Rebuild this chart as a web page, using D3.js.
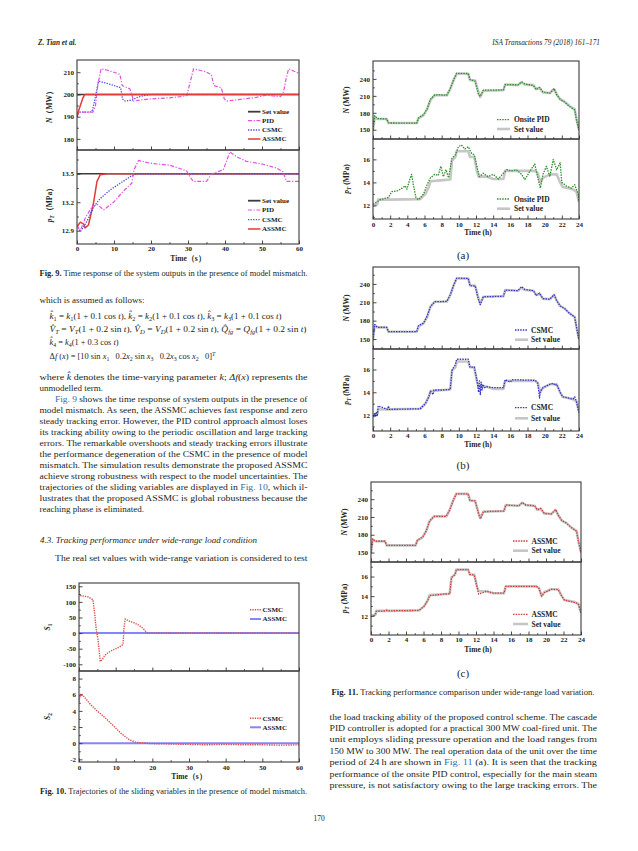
<!DOCTYPE html>
<html><head><meta charset="utf-8">
<script src="https://cdn.jsdelivr.net/npm/d3@7"></script>
<style>body{margin:0;background:#fff}svg{display:block}</style>
</head><body>
<svg id="page" width="638" height="851"></svg>
<script>
// ================= DATA =================
// Fig. 9 (time in s)
const fig9TimeTicks = [0,10,20,30,40,50,60];
const fig9NTicks = [180,190,200,210];
const fig9PTicks = [12.9,13.2,13.5];
const fig9SetT = [0,60];
const fig9NSet = [200,200];
const fig9NPidT = [0,0.5,4.3,5,5.6,6.5,8,10,11.6,12.2,14.3,14.8,15.3,17,20,25,28,29.7,30.5,31.5,33,35,36.3,37,39,39.8,40.5,45,48,51,53,55,55.8,56.5,57.2,60];
const fig9NPid  = [190,192,192,195,204,211.5,211,210,209,204,202.5,200,197,197.5,198,198.5,199,199.5,205,211.5,211,210,209,204,203,198,197,198,198.5,199.7,199.3,199,201,207,211.5,209.5];
const fig9NCsmcT = [0,0.3,0.6,3.5,4.2,5,5.8,6.3,8,10,11.8,12.3,13,15,16,18,20,60];
const fig9NCsmc  = [190,191.5,192,192,193,199,206,205.8,205,204,203,198,197,197.5,198.5,199.5,200,200];
const fig9NAssmcT = [0,0.5,1,1.5,2,2.3,60];
const fig9NAssmc  = [190,193,195.5,198,199.8,200,200];
const fig9PSet = [13.5,13.5];
const fig9PPidT = [0,0.9,2.2,4,5.4,7.2,9.9,12.6,14.8,15.4,16.6,19.8,25.1,27.4,29.6,30.5,31.4,35,36.4,39.5,40.4,41.3,43.1,45.8,50.3,53.9,55.7,56.6,60];
const fig9PPid  = [12.96,12.9,13.03,13.15,13.18,13.12,13.2,13.32,13.4,13.54,13.64,13.61,13.59,13.56,13.53,13.47,13.42,13.42,13.5,13.54,13.63,13.73,13.68,13.63,13.6,13.56,13.52,13.42,13.42];
const fig9PCsmcT = [0,0.9,1.8,3.1,4.5,6.3,9,11.7,14.4,16.2,60];
const fig9PCsmc  = [12.96,12.89,12.94,13.03,13.15,13.24,13.33,13.4,13.47,13.5,13.5];
const fig9PAssmcT = [0,0.9,1.8,2.2,3.1,4.5,5.4,6.3,8.1,60];
const fig9PAssmc  = [12.94,12.99,12.97,12.93,12.96,13.2,13.42,13.49,13.5,13.5];

// Fig. 10
const fig10S1Ticks = [-100,-50,0,50,100,150];
const fig10S2Ticks = [-2,0,2,4,6,8];
const fig10S1CsmcT = [0,0.1,0.3,1,2.5,3.8,4.2,4.7,5.2,5.8,6.3,7,8,9.3,11,12,12.3,12.6,13.8,15,16.5,17.5,18.4,19,60];
const fig10S1Csmc  = [150,125,120,119,116,107,70,12,-22,-91,-85,-72,-62,-54,-45,-36,20,45,38,33,24,15,2,0,0];
const fig10S2CsmcT = [0,0.3,0.6,1.5,2.9,4.7,7,9.3,11.5,13.8,15.6,17,19.3,25,30,35,40,45,50,55,60];
const fig10S2Csmc  = [5.1,5.9,6.15,5.7,4.9,4.1,3.2,2.2,1.2,0.4,0.1,0.05,-0.05,-0.1,-0.15,-0.2,-0.15,-0.2,-0.2,-0.25,-0.2];
const fig10AssmcT = [0,60];
const fig10S1Assmc = [0,0];
const fig10S2Assmc = [0,0];

// Fig. 11 (time in h)
const fig11HourTicks = [0,2,4,6,8,10,12,14,16,18,20,22,24];
const fig11NTicks = [150,180,210,240];
const fig11PTicks = [12,14,16];
const fig11HoursN = [0,0.2,0.5,1.6,1.8,5.1,5.3,5.9,6.3,6.7,7.2,8.6,9.0,9.4,9.75,11.1,11.3,11.9,12.3,12.5,12.85,15.2,15.4,16.9,17.3,17.7,18.7,19.0,19.4,19.8,20.6,21.1,21.4,21.8,22.3,22.9,23.5,23.7,24];
const fig11SetN   = [150,172,169,169,162,162,170,176,186,203,211,211,222,238,249,249,238,237,216,208,219,220,230,229,234,230,229,222,224,216,215,222,213,204,200,192,186,170,150];
const fig11PidN   = [150,175,170,169,162,161.5,171,177,187,204,212,211,223,239,250,249.5,239,236,212,209,220,220.5,230,229.5,235,231,228,221,225,217,214.5,223,212,204,199,191,185,168,149];
const fig11CsmcN  = [148,174,169,169,162,162,172,176,187,203,211,211.5,222,238,249.5,249,237,237,214,206,219,220,230,229,235.5,231,229,221,225,216,215,222.5,213,204,200,192,186,170,148];
const fig11AssmcN = [149,173,169,169,162,162,171,176,186,203,211,211,222,238,249,249,238,237,215,207,219,220,230,229,234.5,230,229,222,224.5,216,215,222.5,213,204,200,192,186,170,149];
const fig11HoursP = [0,0.5,0.6,1.7,1.8,1.9,5.5,6.1,6.5,6.7,8.2,9.0,9.2,9.6,9.75,11.1,11.3,11.8,12.1,12.3,13.2,14.0,15.2,15.4,18.9,19.2,19.5,19.8,20.6,21.4,21.8,22.1,23.3,23.7,24];
const fig11SetP   = [12.0,12.1,12.5,12.5,12.6,12.5,12.55,13.0,13.6,14.1,14.2,14.25,15.9,16.2,16.7,16.7,16.2,16.2,15.0,14.5,14.5,14.3,14.3,15.0,15.0,14.8,14.0,14.4,14.7,14.7,14.0,13.6,13.4,13.2,12.3];
const fig11AssmcP = [11.9,12.1,12.45,12.5,12.55,12.5,12.55,13.0,13.6,14.05,14.2,14.25,15.9,16.2,16.7,16.7,16.2,16.15,15.0,14.2,14.5,14.3,14.3,15.0,15.0,14.8,14.0,14.35,14.7,14.65,14.0,13.6,13.35,13.2,12.3];
const fig11PidPT  = [0,0.85,1.8,2.2,2.8,3.4,3.75,3.95,4.3,4.5,4.7,5.0,5.3,5.9,6.3,6.7,7.2,7.6,7.9,8.2,8.5,8.8,9.2,9.6,9.95,10.3,10.7,11.1,11.5,11.8,12.1,12.4,12.85,13.4,14.0,14.6,15.2,15.6,16.1,16.7,17.3,17.7,18.3,18.85,19.2,19.5,19.8,20.2,20.6,21.0,21.4,21.8,22.0,22.5,23.1,23.5,23.9,24];
const fig11PidP   = [12.1,12.5,12.7,13.2,13.25,13.5,13.7,13.4,14.3,14.7,13.8,12.7,12.5,13.0,13.8,14.4,14.7,14.6,15.4,14.5,15.1,14.4,16.1,16.4,17.1,17.25,16.9,17.1,16.5,16.4,15.4,14.5,14.8,14.5,14.7,14.3,14.8,15.1,15.0,15.1,14.7,14.25,15.0,15.6,14.4,13.5,14.7,15.4,14.5,16.0,15.1,15.7,14.0,13.7,13.5,13.8,13.0,12.4];
const fig11CsmcPT = [0,0.1,0.2,0.3,0.4,0.5,0.6,1.7,1.8,1.9,5.5,6.1,6.5,6.7,7.0,7.1,8.2,9.0,9.2,9.4,9.6,9.75,11.1,11.3,11.8,12.1,12.3,12.4,12.5,12.6,12.7,12.8,13.0,13.2,14.0,15.2,15.4,16.0,16.2,18.9,19.2,19.4,19.5,19.8,20.6,21.0,21.2,21.4,21.8,22.1,23.3,23.5,23.7,24];
const fig11CsmcP  = [12.0,11.8,12.2,11.9,12.3,11.9,12.8,12.5,12.8,12.5,12.55,13.0,13.6,14.1,13.8,14.2,14.2,14.25,15.9,16.2,16.4,16.9,16.9,16.2,16.2,15.1,14.0,15.0,13.8,14.9,14.2,14.7,14.4,14.5,14.4,14.4,15.1,14.9,15.1,15.05,14.8,13.5,14.1,14.4,14.7,14.8,14.6,14.7,14.0,13.6,13.4,13.6,13.2,12.2];

// Text
const leftLines = [
  "where <i>k̂</i> denotes the time-varying parameter <i>k</i>; <i>Δf</i>(<i>x</i>) represents the",
  "unmodelled term.",
  "<a>Fig. 9</a> shows the time response of system outputs in the presence of",
  "model mismatch. As seen, the ASSMC achieves fast response and zero",
  "steady tracking error. However, the PID control approach almost loses",
  "its tracking ability owing to the periodic oscillation and large tracking",
  "errors. The remarkable overshoots and steady tracking errors illustrate",
  "the performance degeneration of the CSMC in the presence of model",
  "mismatch. The simulation results demonstrate the proposed ASSMC",
  "achieve strong robustness with respect to the model uncertainties. The",
  "trajectories of the sliding variables are displayed in <a>Fig. 10</a>, which il-",
  "lustrates that the proposed ASSMC is global robustness because the",
  "reaching phase is eliminated."
];
const equations = [
  "<i>k̂</i><sub>1</sub> = <i>k</i><sub>1</sub>(1 + 0.1 cos <i>t</i>), <i>k̂</i><sub>2</sub> = <i>k</i><sub>2</sub>(1 + 0.1 cos <i>t</i>), <i>k̂</i><sub>3</sub> = <i>k</i><sub>3</sub>(1 + 0.1 cos <i>t</i>)",
  "<i>V̂</i><sub><i>T</i></sub> = <i>V</i><sub><i>T</i></sub>(1 + 0.2 sin <i>t</i>), <i>V̂</i><sub><i>D</i></sub> = <i>V</i><sub><i>D</i></sub>(1 + 0.2 sin <i>t</i>), <i>Q̂</i><sub><i>fg</i></sub> = <i>Q</i><sub><i>fg</i></sub>(1 + 0.2 sin <i>t</i>)",
  "<i>k̂</i><sub>4</sub> = <i>k</i><sub>4</sub>(1 + 0.3 cos <i>t</i>)",
  "Δ<i>f</i> (<i>x</i>) = [10 sin <i>x</i><sub>1</sub>\u00a0\u00a0 0.2<i>x</i><sub>2</sub> sin <i>x</i><sub>3</sub>\u00a0\u00a0 0.2<i>x</i><sub>3</sub> cos <i>x</i><sub>2</sub>\u00a0\u00a0 0]<sup><i>T</i></sup>"
];
const rightLines = [
  "the load tracking ability of the proposed control scheme. The cascade",
  "PID controller is adopted for a practical 300\u2009MW coal-fired unit. The",
  "unit employs sliding pressure operation and the load ranges from",
  "150 MW to 300 MW. The real operation data of the unit over the time",
  "period of 24\u2009h are shown in <a>Fig. 11</a> (a). It is seen that the tracking",
  "performance of the onsite PID control, especially for the main steam",
  "pressure, is not satisfactory owing to the large tracking errors. The"
];

// ================= RENDER =================
const SERIF = "'Liberation Serif','Times New Roman','DejaVu Serif',serif";
const svg = d3.select('#page');
svg.append('rect').attr('width',638).attr('height',851).attr('fill','#fff');
let clipN = 0;
const plainInt = d => String(d);

function rich(g, x, y, markup, o) {
  o = o || {};
  const size = o.size || 9;
  const t = g.append('text').attr('x', x).attr('y', y)
    .attr('font-family', SERIF).attr('font-size', size)
    .attr('fill', o.fill || '#231f20');
  if (o.anchor) t.attr('text-anchor', o.anchor);
  if (o.weight) t.attr('font-weight', o.weight);
  if (o.italic) t.attr('font-style', 'italic');
  if (o.width) t.attr('textLength', o.width).attr('lengthAdjust', 'spacingAndGlyphs');
  if (o.rotate) t.attr('transform', `rotate(-90,${x},${y})`);
  const parts = markup.split(/(<\/?(?:i|sub|sup|b|a)>)/);
  const st = {i: !!o.italic, b: o.weight === 'bold', a: false, sub: false, sup: false};
  let pending = 0;
  const SUB = size * 0.25, SUP = -size * 0.34;
  parts.forEach(p => {
    if (!p) return;
    const m = p.match(/^<(\/?)(i|sub|sup|b|a)>$/);
    if (m) {
      const close = m[1] === '/', tag = m[2];
      if (tag === 'sub') pending += close ? -SUB : SUB;
      if (tag === 'sup') pending += close ? -SUP : SUP;
      st[tag] = !close;
      return;
    }
    const ts = t.append('tspan').text(p);
    if (pending) { ts.attr('dy', pending); pending = 0; }
    ts.attr('font-style', st.i ? 'italic' : 'normal');
    ts.attr('font-weight', st.b ? 'bold' : 'normal');
    if (st.a) ts.attr('fill', '#2f6ea8');
    if (st.sub || st.sup) ts.attr('font-size', size * 0.7);
  });
  return t;
}

function drawPanel(p) {
  const g = svg.append('g');
  const x = d3.scaleLinear().domain(p.xDomain).range([p.x0, p.x1]);
  const y = d3.scaleLinear().domain(p.yDomain).range([p.y1, p.y0]);
  const id = 'clip' + (clipN++);
  svg.append('clipPath').attr('id', id).append('rect')
    .attr('x', p.x0).attr('y', p.y0).attr('width', p.x1 - p.x0).attr('height', p.y1 - p.y0);
  const lg = g.append('g').attr('clip-path', `url(#${id})`);
  p.series.forEach(s => {
    lg.append('path').datum(d3.zip(s.t, s.v))
      .attr('d', d3.line().x(d => x(d[0])).y(d => y(d[1])))
      .attr('fill', 'none').attr('stroke', s.color).attr('stroke-width', s.w)
      .attr('stroke-dasharray', s.dash || null)
      .attr('stroke-linejoin', 'round');
  });
  const tickStyle = sel => {
    sel.select('.domain').remove();
    sel.selectAll('.tick line').attr('stroke', '#333').attr('stroke-width', 0.9);
    sel.selectAll('.tick text').attr('font-family', SERIF).attr('font-size', p.tickSize || 7)
      .attr('font-weight', 'bold').attr('fill', '#222');
  };
  g.append('g').attr('transform', `translate(${p.x0},0)`)
    .call(d3.axisLeft(y).tickValues(p.yMinor).tickSize(-1.8).tickFormat('')).call(tickStyle);
  g.append('g').attr('transform', `translate(${p.x0},0)`)
    .call(d3.axisLeft(y).tickValues(p.yTicks).tickSize(-3.5).tickPadding(3).tickFormat(p.yFormat || plainInt)).call(tickStyle);
  g.append('g').attr('transform', `translate(0,${p.y1})`)
    .call(d3.axisBottom(x).tickValues(p.xMinor).tickSize(-1.8).tickFormat('')).call(tickStyle);
  g.append('g').attr('transform', `translate(0,${p.y1})`)
    .call(d3.axisBottom(x).tickValues(p.xTicks).tickSize(-3.5).tickPadding(p.xPad || 4)
      .tickFormat(p.showX ? plainInt : '')).call(tickStyle);
  g.append('rect').attr('x', p.x0).attr('y', p.y0).attr('width', p.x1 - p.x0).attr('height', p.y1 - p.y0)
    .attr('fill', 'none').attr('stroke', '#3a3a3a').attr('stroke-width', 1.1);
  if (p.legend) {
    const L = p.legend;
    L.rows.forEach(r => {
      g.append('line').attr('x1', L.lx0).attr('x2', L.lx1).attr('y1', r.y).attr('y2', r.y)
        .attr('stroke', r.color).attr('stroke-width', r.w).attr('stroke-dasharray', r.dash || null);
      g.append('text').attr('x', L.tx).attr('y', r.y).attr('dy', '0.35em')
        .attr('font-family', SERIF).attr('font-size', L.size || 7).attr('font-weight', 'bold')
        .attr('fill', '#222').text(r.label);
    });
  }
  if (p.ylabel) {
    rich(g, p.x0 - p.ylabelOff, (p.y0 + p.y1) / 2 + (p.ylabelDy || 0), p.ylabel,
      {size: p.ylabelSize || 7.5, weight: 'bold', anchor: 'middle', rotate: true});
  }
  return {x, y};
}

// ---------- Header ----------
rich(svg, 38, 45, "Z. Tian et al.", {size: 7.3, italic: true, weight: 'bold'});
rich(svg, 600, 45, "ISA Transactions 79 (2018) 161–171", {size: 7.3, italic: true, anchor: 'end'});

// ---------- Fig. 9 ----------
const C9 = {set: '#3c3c3c', pid: '#e052e0', csmc: '#4a4ae6', assmc: '#e23b3b'};
const D9 = {pid: '4,1.6,1.2,1.6', csmc: '1.3,1.3'};
const f9common = {x0: 77, x1: 299, xDomain: [0, 60], xTicks: fig9TimeTicks, xMinor: [5,15,25,35,45,55], ylabelOff: 25, xPad: 2.5};
drawPanel(Object.assign({}, f9common, {
  y0: 60, y1: 150, yDomain: [175, 215.5], yTicks: fig9NTicks, yMinor: [185,195,205], showX: false,
  ylabel: "<i>N</i>（MW）",
  series: [
    {t: fig9SetT, v: fig9NSet, color: C9.set, w: 1.6},
    {t: fig9NCsmcT, v: fig9NCsmc, color: C9.csmc, w: 1.3, dash: D9.csmc},
    {t: fig9NPidT, v: fig9NPid, color: C9.pid, w: 1.2, dash: D9.pid},
    {t: fig9NAssmcT, v: fig9NAssmc, color: C9.assmc, w: 1.5}
  ],
  legend: {lx0: 248, lx1: 260.5, tx: 262, rows: [
    {y: 111.7, label: 'Set value', color: C9.set, w: 1.8},
    {y: 120.7, label: 'PID', color: C9.pid, w: 1.2, dash: D9.pid},
    {y: 130, label: 'CSMC', color: C9.csmc, w: 1.3, dash: D9.csmc},
    {y: 139, label: 'ASSMC', color: C9.assmc, w: 1.5}
  ]}
}));
drawPanel(Object.assign({}, f9common, {
  y0: 150, y1: 244, yDomain: [12.76, 13.75], yTicks: fig9PTicks, yMinor: [13.05,13.35,13.65], showX: true,
  yFormat: d3.format('.1f'), ylabel: "<i>p</i><sub><i>T</i></sub>（MPa）", ylabelDy: 6,
  series: [
    {t: fig9SetT, v: fig9PSet, color: C9.set, w: 1.6},
    {t: fig9PAssmcT, v: fig9PAssmc, color: C9.assmc, w: 1.5},
    {t: fig9PCsmcT, v: fig9PCsmc, color: C9.csmc, w: 1.3, dash: D9.csmc},
    {t: fig9PPidT, v: fig9PPid, color: C9.pid, w: 1.2, dash: D9.pid}
  ],
  legend: {lx0: 248, lx1: 260.5, tx: 262, rows: [
    {y: 200.7, label: 'Set value', color: C9.set, w: 1.8},
    {y: 210, label: 'PID', color: C9.pid, w: 1.2, dash: D9.pid},
    {y: 219.7, label: 'CSMC', color: C9.csmc, w: 1.3, dash: D9.csmc},
    {y: 229, label: 'ASSMC', color: C9.assmc, w: 1.5}
  ]}
}));
rich(svg, 188, 261, "Time（s）", {size: 7.5, weight: 'bold', anchor: 'middle'});
rich(svg, 39.5, 275.5, "<b>Fig. 9.</b> Time response of the system outputs in the presence of model mismatch.", {size: 7.6, width: 268});

// ---------- Left column text ----------
rich(svg, 39.5, 303, "which is assumed as follows:", {size: 9});
const eqY = [318.5, 332, 344.5, 358.5];
const eqW = [232, 257, null, null];
equations.forEach((e, i) => rich(svg, 49.5, eqY[i], e, {size: 8.4, width: eqW[i]}));
leftLines.forEach((l, i) => {
  const y = 379.5 + i * 11.05;
  const indent = (i === 2) ? 55 : 39.5;
  const last = (i === 1 || i === leftLines.length - 1);
  rich(svg, indent, y, l, {size: 9, width: last ? null : 307.5 - indent});
});
rich(svg, 40, 543, "4.3.  Tracking performance under wide-range load condition", {size: 9, italic: true});
rich(svg, 55, 561, "The real set values with wide-range variation is considered to test", {size: 9, width: 252.5});

// ---------- Fig. 10 ----------
const C10 = {csmc: '#e04848', assmc: '#8585f5'};
const f10common = {x0: 79, x1: 299, xDomain: [0, 60], xTicks: fig9TimeTicks, xMinor: [5,15,25,35,45,55], ylabelOff: 29, xPad: 3};
drawPanel(Object.assign({}, f10common, {
  y0: 583, y1: 671, yDomain: [-121.5, 160.5], yTicks: fig10S1Ticks, yMinor: [-75,-25,25,75,125], showX: false,
  ylabel: "<i>S</i><sub>1</sub>",
  series: [
    {t: fig10AssmcT, v: fig10S1Assmc, color: C10.assmc, w: 2},
    {t: fig10S1CsmcT, v: fig10S1Csmc, color: C10.csmc, w: 1.4, dash: '1.3,1.1'}
  ],
  legend: {lx0: 250, lx1: 261, tx: 262.5, rows: [
    {y: 609.7, label: 'CSMC', color: C10.csmc, w: 1.4, dash: '1.3,1.1'},
    {y: 619, label: 'ASSMC', color: C10.assmc, w: 2}
  ]}
}));
drawPanel(Object.assign({}, f10common, {
  y0: 671, y1: 762, yDomain: [-2.33, 8.94], yTicks: fig10S2Ticks, yMinor: [-1,1,3,5,7], showX: true,
  ylabel: "<i>S</i><sub>2</sub>",
  series: [
    {t: fig10AssmcT, v: fig10S2Assmc, color: C10.assmc, w: 2},
    {t: fig10S2CsmcT, v: fig10S2Csmc, color: C10.csmc, w: 1.4, dash: '1.3,1.1'}
  ],
  legend: {lx0: 250, lx1: 261, tx: 262.5, rows: [
    {y: 718.3, label: 'CSMC', color: C10.csmc, w: 1.4, dash: '1.3,1.1'},
    {y: 727.3, label: 'ASSMC', color: C10.assmc, w: 2}
  ]}
}));
rich(svg, 189, 779, "Time（s）", {size: 7.5, weight: 'bold', anchor: 'middle'});
rich(svg, 40, 794, "<b>Fig. 10.</b> Trajectories of the sliding variables in the presence of model mismatch.", {size: 7.6, width: 267});

// ---------- Fig. 11 ----------
const SETC = '#c6c6c6';
const subfigs = [
  {name: 'Onsite PID', color: '#2f8f2f', N: fig11PidN, PT: fig11PidPT, P: fig11PidP,
   x0: 373, x1: 579, top: [61, 139], bot: [139, 219], dTop: [133.6, 271.7], dBot: [10.82, 17.77],
   leg: {lx0: 497, lx1: 510, tx: 514, rows: [119.7, 129, 199, 208.7]}, xlab: 235, pad: 3, tag: '(a)', tagY: 259},
  {name: 'CSMC', color: '#3535c8', N: fig11CsmcN, PT: fig11CsmcPT, P: fig11CsmcP,
   x0: 373, x1: 579, top: [267, 349], bot: [349, 431], dTop: [133.7, 267.7], dBot: [10.6, 17.8],
   leg: {lx0: 515, lx1: 528, tx: 531, rows: [330, 339.7, 407.7, 418.3]}, xlab: 446.5, pad: 2, tag: '(b)', tagY: 469},
  {name: 'ASSMC', color: '#cf3d3d', N: fig11AssmcN, PT: fig11HoursP, P: fig11AssmcP,
   x0: 371, x1: 581, top: [482, 562], bot: [562, 635], dTop: [134, 269], dBot: [10.04, 17.48],
   leg: {lx0: 513, lx1: 528, tx: 531.5, rows: [541, 550.7, 614.3, 624]}, xlab: 652, pad: 2, tag: '(c)', tagY: 677}
];
subfigs.forEach(sf => {
  const common = {x0: sf.x0, x1: sf.x1, xDomain: [0, 24], xTicks: fig11HourTicks,
    xMinor: [1,3,5,7,9,11,13,15,17,19,21,23], ylabelOff: 24, xPad: sf.pad};
  const dash = '1.5,1.1';
  drawPanel(Object.assign({}, common, {
    y0: sf.top[0], y1: sf.top[1], yDomain: sf.dTop, yTicks: fig11NTicks, yMinor: [165,195,225,255], showX: false,
    ylabel: "<i>N</i> (MW)",
    series: [
      {t: fig11HoursN, v: fig11SetN, color: SETC, w: 2.6},
      {t: fig11HoursN, v: sf.N, color: sf.color, w: 1.3, dash: dash}
    ],
    legend: {lx0: sf.leg.lx0, lx1: sf.leg.lx1, tx: sf.leg.tx, size: 7.5, rows: [
      {y: sf.leg.rows[0], label: sf.name, color: sf.color, w: 1.3, dash: dash},
      {y: sf.leg.rows[1], label: 'Set value', color: SETC, w: 2.6}
    ]}
  }));
  drawPanel(Object.assign({}, common, {
    y0: sf.bot[0], y1: sf.bot[1], yDomain: sf.dBot, yTicks: fig11PTicks, yMinor: [11,13,15,17], showX: true,
    ylabel: "<i>p</i><sub><i>T</i></sub> (MPa)",
    series: [
      {t: fig11HoursP, v: fig11SetP, color: SETC, w: 2.6},
      {t: sf.PT, v: sf.P, color: sf.color, w: 1.3, dash: dash}
    ],
    legend: {lx0: sf.leg.lx0, lx1: sf.leg.lx1, tx: sf.leg.tx, size: 7.5, rows: [
      {y: sf.leg.rows[2], label: sf.name, color: sf.color, w: 1.3, dash: dash},
      {y: sf.leg.rows[3], label: 'Set value', color: SETC, w: 2.6}
    ]}
  }));
  rich(svg, 478, sf.xlab, "Time (h)", {size: 7.5, weight: 'bold', anchor: 'middle'});
  rich(svg, 463, sf.tagY, sf.tag, {size: 11, anchor: 'middle'});
});
rich(svg, 463, 694.5, "<b>Fig. 11.</b> Tracking performance comparison under wide-range load variation.", {size: 7.6, anchor: 'middle', width: 263});

// ---------- Right column text ----------
rightLines.forEach((l, i) => {
  rich(svg, 329.5, 719.7 + i * 11.38, l, {size: 9, width: 267.5});
});

// ---------- Page number ----------
rich(svg, 319, 821, "170", {size: 7.5, anchor: 'middle'});
</script>
</body></html>
